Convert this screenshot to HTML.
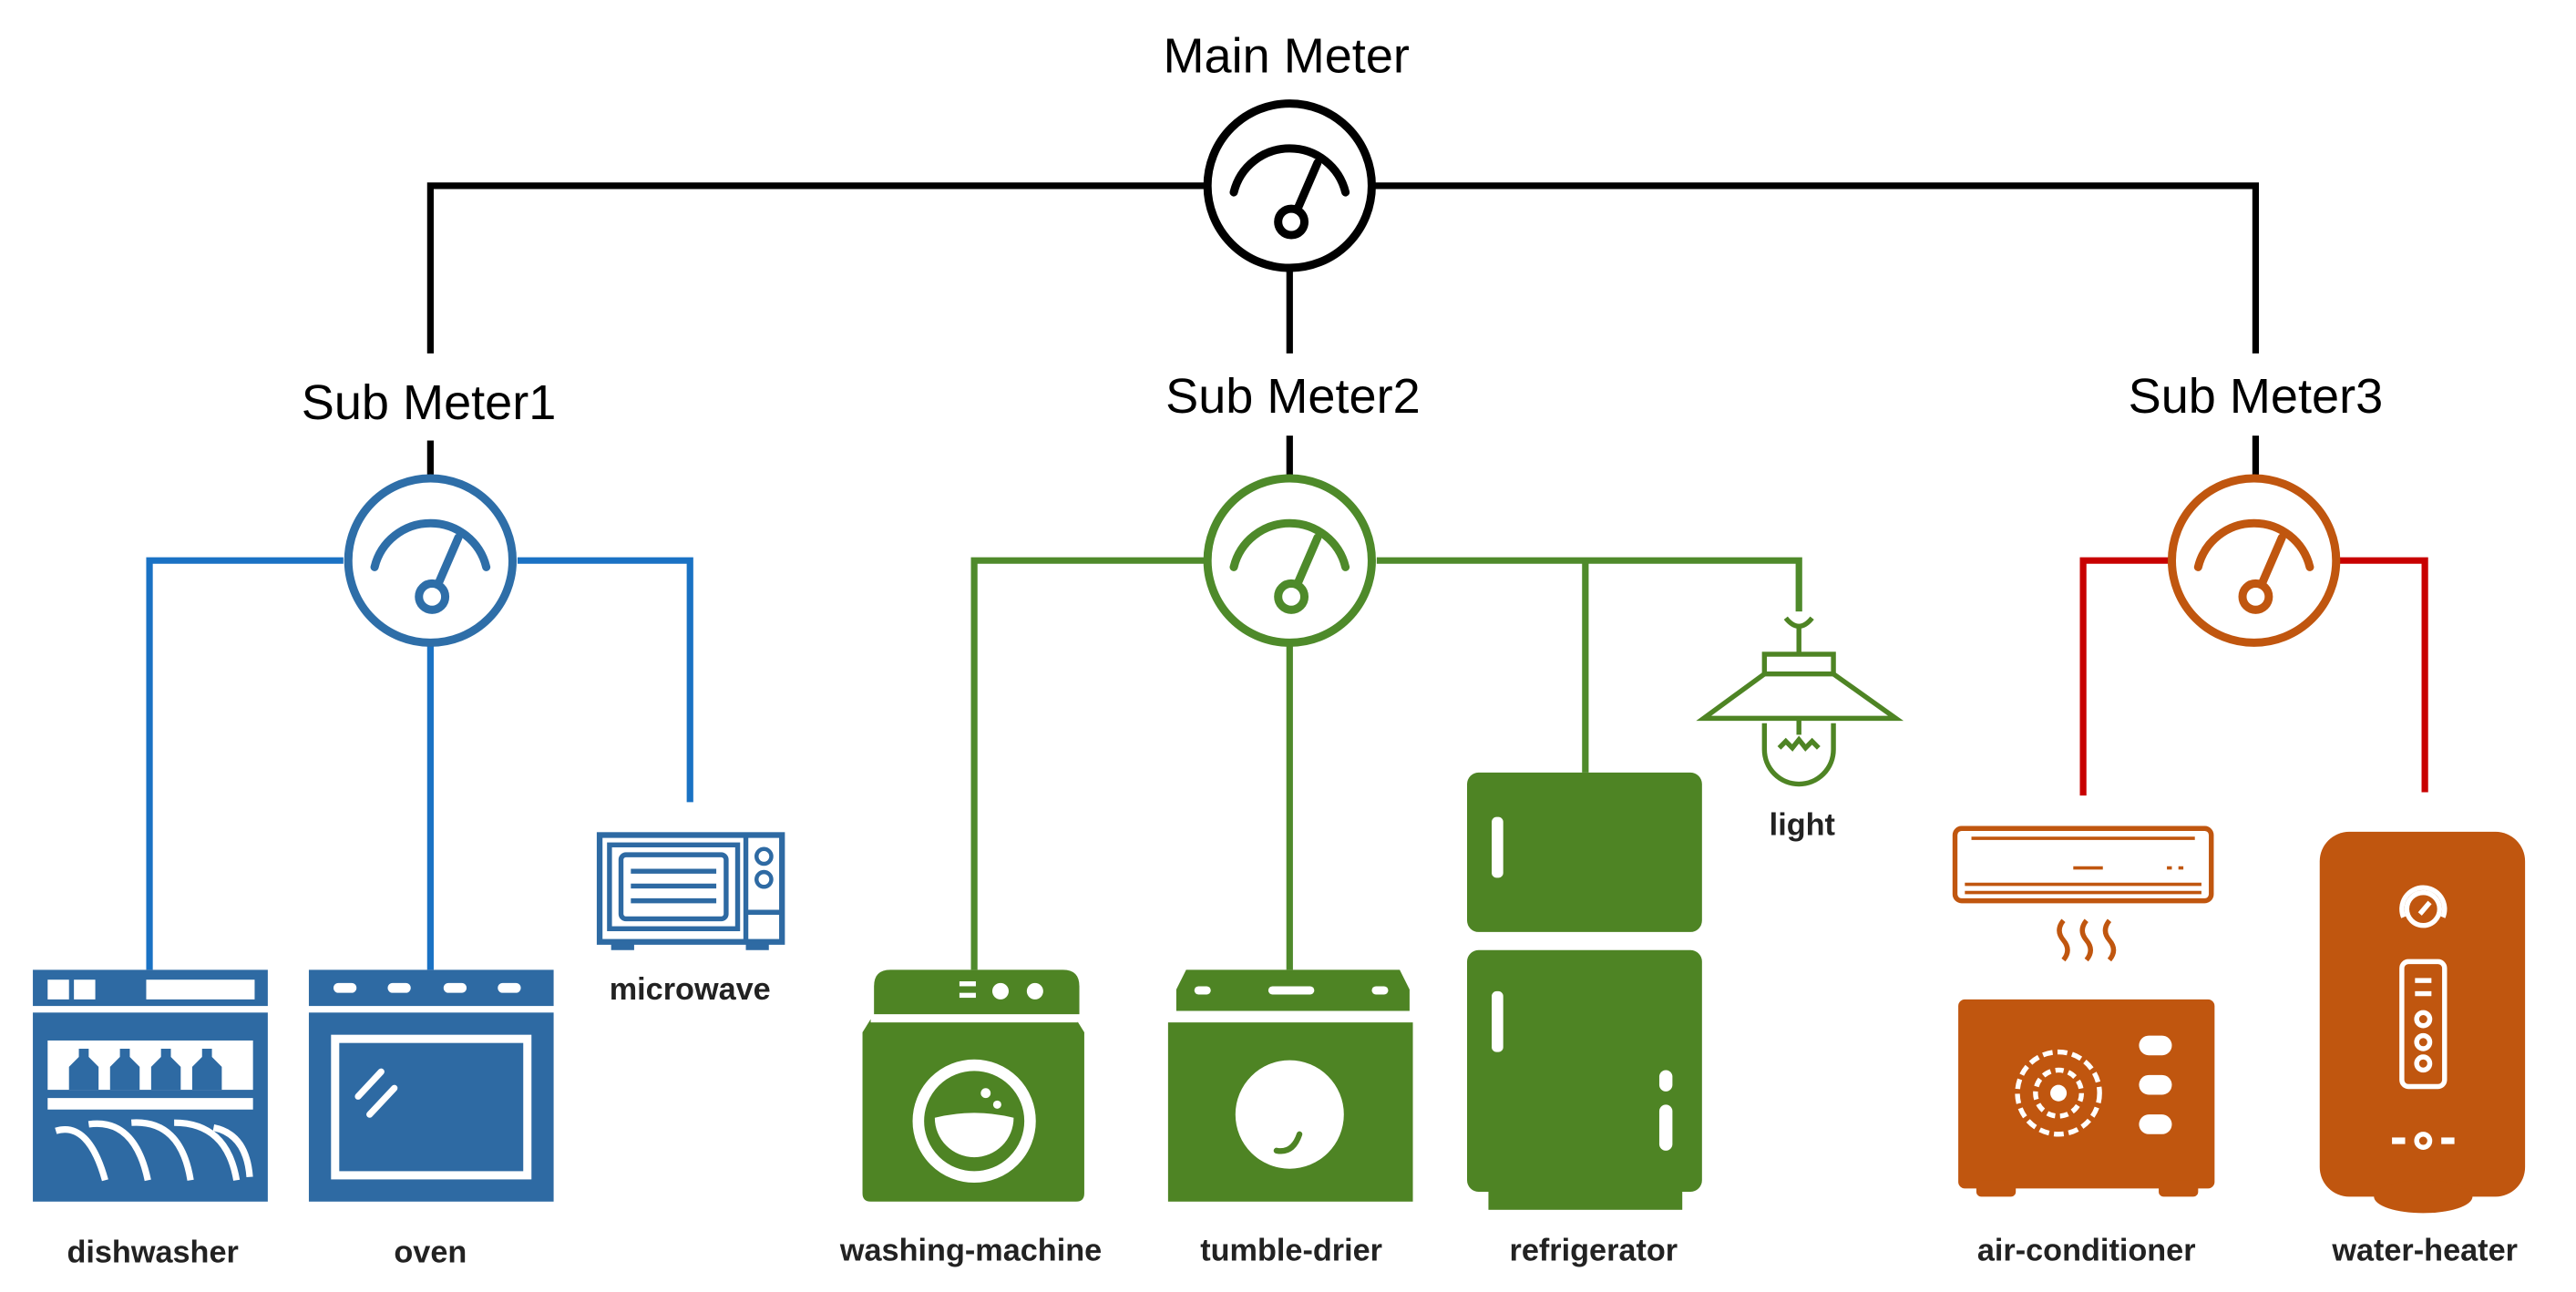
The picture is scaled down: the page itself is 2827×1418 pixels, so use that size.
<!DOCTYPE html>
<html><head><meta charset="utf-8"><style>html,body{margin:0;padding:0;background:#fff;}svg{display:block}</style></head>
<body>
<svg width="2827" height="1418" viewBox="0 0 1568 786" preserveAspectRatio="none" xmlns="http://www.w3.org/2000/svg" font-family="Liberation Sans, sans-serif">
<defs>
<g id="meter">
  <circle cx="0" cy="0" r="50" fill="#fff" stroke-width="5"/>
  <path d="M -34 4 A 35 35 0 0 1 34 4" fill="none" stroke-width="5" stroke-linecap="round"/>
  <line x1="4" y1="16" x2="17" y2="-14" stroke-width="5" stroke-linecap="round"/>
  <circle cx="1" cy="22" r="8" fill="#fff" stroke-width="5"/>
</g>
</defs>
<!-- black lines -->
<g stroke="#000" stroke-width="4" fill="none">
  <polyline points="262,215 262,113 1373,113 1373,215"/>
  <line x1="785" y1="150" x2="785" y2="215"/>
  <line x1="262" y1="268" x2="262" y2="292"/>
  <line x1="785" y1="265" x2="785" y2="292"/>
  <line x1="1373" y1="265" x2="1373" y2="292"/>
</g>
<!-- blue lines -->
<g stroke="#1a72c4" stroke-width="4" fill="none">
  <polyline points="91,590 91,341 209,341"/>
  <polyline points="315,341 420,341 420,488"/>
  <line x1="262" y1="390" x2="262" y2="590"/>
</g>
<!-- green lines -->
<g stroke="#4f8a2b" stroke-width="4" fill="none">
  <polyline points="593,590 593,341 733,341"/>
  <polyline points="838,341 1095,341 1095,372"/>
  <line x1="965" y1="341" x2="965" y2="470"/>
  <line x1="785" y1="390" x2="785" y2="590"/>
</g>
<!-- red lines -->
<g stroke="#c80000" stroke-width="4" fill="none">
  <polyline points="1268,484 1268,341 1320,341"/>
  <polyline points="1424,341 1476,341 1476,482"/>
</g>
<!-- meters -->
<use href="#meter" x="785" y="113" stroke="#000"/>
<use href="#meter" x="262" y="341" stroke="#2e6ea8"/>
<use href="#meter" x="785" y="341" stroke="#4e8a2a"/>
<use href="#meter" x="1372" y="341" stroke="#c0560f"/>
<!-- labels -->
<g font-size="30" fill="#000" text-anchor="middle">
  <text x="783" y="44">Main Meter</text>
  <text x="261" y="255">Sub Meter1</text>
  <text x="787" y="251">Sub Meter2</text>
  <text x="1373" y="251">Sub Meter3</text>
</g>
<g font-size="19" font-weight="600" fill="#222" text-anchor="middle">
  <text x="93" y="768">dishwasher</text>
  <text x="262" y="768">oven</text>
  <text x="420" y="608">microwave</text>
  <text x="591" y="767">washing-machine</text>
  <text x="786" y="767">tumble-drier</text>
  <text x="970" y="767">refrigerator</text>
  <text x="1097" y="508">light</text>
  <text x="1270" y="767">air-conditioner</text>
  <text x="1476" y="767">water-heater</text>
</g>
<!-- dishwasher -->
<g fill="#2e6aa3">
  <rect x="20" y="590" width="143" height="22"/>
  <rect x="20" y="616" width="143" height="115"/>
</g>
<g fill="#fff">
  <rect x="29" y="596" width="13" height="12"/><rect x="45" y="596" width="13" height="12"/><rect x="89" y="596" width="66" height="12"/>
  <rect x="29" y="633" width="125" height="30"/>
  <rect x="29" y="668" width="125" height="7"/>
</g>
<g fill="#2e6aa3">
  <path d="M42 663 v-14 l6-6 v-5 h6 v5 l6 6 v14z"/>
  <path d="M67 663 v-14 l6-6 v-5 h6 v5 l6 6 v14z"/>
  <path d="M92 663 v-14 l6-6 v-5 h6 v5 l6 6 v14z"/>
  <path d="M117 663 v-14 l6-6 v-5 h6 v5 l6 6 v14z"/>
</g>
<g stroke="#fff" stroke-width="4" fill="none">
  <path d="M34 688 q20 -6 30 30"/><path d="M54 684 q28 -4 36 34"/><path d="M80 683 q30 -2 36 35"/><path d="M106 683 q32 0 38 35"/><path d="M130 686 q20 4 22 30"/>
</g>
<!-- oven -->
<g fill="#2e6aa3">
  <rect x="188" y="590" width="149" height="22"/>
  <rect x="188" y="616" width="149" height="115"/>
</g>
<g fill="#fff">
  <rect x="203" y="598" width="14" height="6" rx="3"/><rect x="236" y="598" width="14" height="6" rx="3"/><rect x="270" y="598" width="14" height="6" rx="3"/><rect x="303" y="598" width="14" height="6" rx="3"/>
</g>
<rect x="204" y="632" width="117" height="83" fill="none" stroke="#fff" stroke-width="5"/>
<g stroke="#fff" stroke-width="4" stroke-linecap="round"><line x1="218" y1="667" x2="232" y2="652"/><line x1="225" y1="678" x2="240" y2="662"/></g>
<!-- microwave -->
<g stroke="#2e6aa3" fill="none">
  <rect x="365" y="508" width="111" height="65" stroke-width="3.5"/>
  <rect x="371" y="514" width="78" height="51" stroke-width="3"/>
  <rect x="378" y="520" width="64" height="39" rx="3" stroke-width="3"/>
  <line x1="384" y1="530" x2="436" y2="530" stroke-width="3"/>
  <line x1="384" y1="539" x2="436" y2="539" stroke-width="3"/>
  <line x1="384" y1="548" x2="436" y2="548" stroke-width="3"/>
  <line x1="454" y1="508" x2="454" y2="573" stroke-width="3"/>
  <circle cx="465" cy="521" r="4.5" stroke-width="2.5"/><circle cx="465" cy="535" r="4.5" stroke-width="2.5"/>
  <line x1="454" y1="555" x2="476" y2="555" stroke-width="3"/>
</g>
<rect x="372" y="573" width="14" height="5" fill="#2e6aa3"/><rect x="454" y="573" width="14" height="5" fill="#2e6aa3"/>
<!-- washing machine -->
<g fill="#4e8424">
  <path d="M532 600 q0-10 10-10 h105 q10 0 10 10 v17 h-125z"/>
  <path d="M525 628 l5-8 h125 l5 8 v98 q0 5-5 5 h-125 q-5 0-5-5z"/>
</g>
<g fill="#fff">
  <rect x="584" y="597" width="10" height="3"/><rect x="584" y="604" width="10" height="3"/>
  <circle cx="609" cy="603" r="5"/><circle cx="630" cy="603" r="5"/>
  <rect x="530" y="618" width="126" height="4"/>
</g>
<circle cx="593" cy="682" r="34" fill="none" stroke="#fff" stroke-width="7"/>
<path d="M569 680 q24 -6 48 0 a24 24 0 0 1 -48 0z" fill="#fff"/>
<circle cx="600" cy="665" r="3" fill="#fff"/><circle cx="607" cy="672" r="2.5" fill="#fff"/>
<!-- tumble drier -->
<g fill="#4e8424">
  <path d="M716 602 l6-12 h130 l6 12 v13 h-142z"/>
  <rect x="711" y="622" width="149" height="109"/>
</g>
<g fill="#fff">
  <rect x="727" y="600" width="10" height="5" rx="2.5"/><rect x="772" y="600" width="28" height="5" rx="2.5"/><rect x="835" y="600" width="10" height="5" rx="2.5"/>
  <rect x="714" y="616" width="143" height="3"/>
  <circle cx="785" cy="678" r="33"/>
</g>
<path d="M791 690 q-4 12 -14 10" fill="none" stroke="#4e8424" stroke-width="3.5" stroke-linecap="round"/>
<!-- refrigerator -->
<g fill="#4e8424">
  <rect x="893" y="470" width="143" height="97" rx="7"/>
  <rect x="893" y="578" width="143" height="147" rx="7"/>
  <rect x="906" y="722" width="118" height="14"/>
</g>
<g fill="#fff">
  <rect x="908" y="497" width="7" height="37" rx="3"/>
  <rect x="908" y="603" width="7" height="37" rx="3"/>
  <rect x="1010" y="651" width="8" height="13" rx="4"/>
  <rect x="1010" y="672" width="8" height="28" rx="4"/>
</g>
<!-- light -->
<g stroke="#4e8424" stroke-width="3" fill="none">
  <path d="M1087 376 q8 10 16 0"/>
  <line x1="1095" y1="381" x2="1095" y2="398"/>
  <rect x="1074" y="398" width="42" height="12"/>
  <path d="M1074 410 L1037 437 H1154 L1116 410"/>
  <path d="M1074 440 v16 a21 21 0 0 0 42 0 v-16"/>
  <line x1="1095" y1="437" x2="1095" y2="447"/>
  <path d="M1083 455 l4-4 4 4 4-5 4 5 4-4 4 4"/>
</g>
<!-- air conditioner -->
<g stroke="#c0560f" fill="none">
  <rect x="1190" y="504" width="156" height="44" rx="4" stroke-width="3"/>
  <line x1="1196" y1="538" x2="1340" y2="538" stroke-width="2"/>
  <line x1="1196" y1="543" x2="1340" y2="543" stroke-width="2"/>
  <line x1="1200" y1="510" x2="1336" y2="510" stroke-width="2"/>
  <line x1="1262" y1="528" x2="1280" y2="528" stroke-width="2"/>
  <path d="M1256 560 q-5 6 0 12 q5 6 0 12" stroke-width="3"/>
  <path d="M1270 560 q-5 6 0 12 q5 6 0 12" stroke-width="3"/>
  <path d="M1284 560 q-5 6 0 12 q5 6 0 12" stroke-width="3"/>
</g>
<g fill="#c0560f">
  <rect x="1319" y="527" width="3" height="2"/><rect x="1326" y="527" width="3" height="2"/>
  <rect x="1192" y="608" width="156" height="115" rx="4"/>
  <rect x="1203" y="718" width="24" height="10" rx="3"/><rect x="1314" y="718" width="24" height="10" rx="3"/>
</g>
<circle cx="1253" cy="665" r="25" fill="none" stroke="#fff" stroke-width="3" stroke-dasharray="6 3"/>
<circle cx="1253" cy="665" r="14" fill="none" stroke="#fff" stroke-width="3" stroke-dasharray="5 3"/>
<circle cx="1253" cy="665" r="5" fill="#fff"/>
<g fill="#fff"><rect x="1302" y="630" width="20" height="12" rx="6"/><rect x="1302" y="654" width="20" height="12" rx="6"/><rect x="1302" y="678" width="20" height="12" rx="6"/></g>
<!-- water heater -->
<g fill="#c0560f">
  <rect x="1412" y="506" width="125" height="222" rx="18"/>
  <ellipse cx="1475" cy="728" rx="30" ry="10"/>
</g>
<g stroke="#fff" fill="none" stroke-width="3">
  <circle cx="1475" cy="553" r="10"/>
  <path d="M1463 558 a13 13 0 1 1 24 0"/>
  <line x1="1473" y1="556" x2="1479" y2="549"/>
  <rect x="1462" y="585" width="26" height="76" rx="4"/>
  <circle cx="1475" cy="620" r="4"/><circle cx="1475" cy="634" r="4"/><circle cx="1475" cy="647" r="4"/>
  <circle cx="1475" cy="694" r="4"/>
</g>
<g fill="#fff"><rect x="1470" y="595" width="10" height="3"/><rect x="1470" y="603" width="10" height="3"/><rect x="1456" y="692" width="8" height="4"/><rect x="1486" y="692" width="8" height="4"/></g>
</svg>
</body></html>
